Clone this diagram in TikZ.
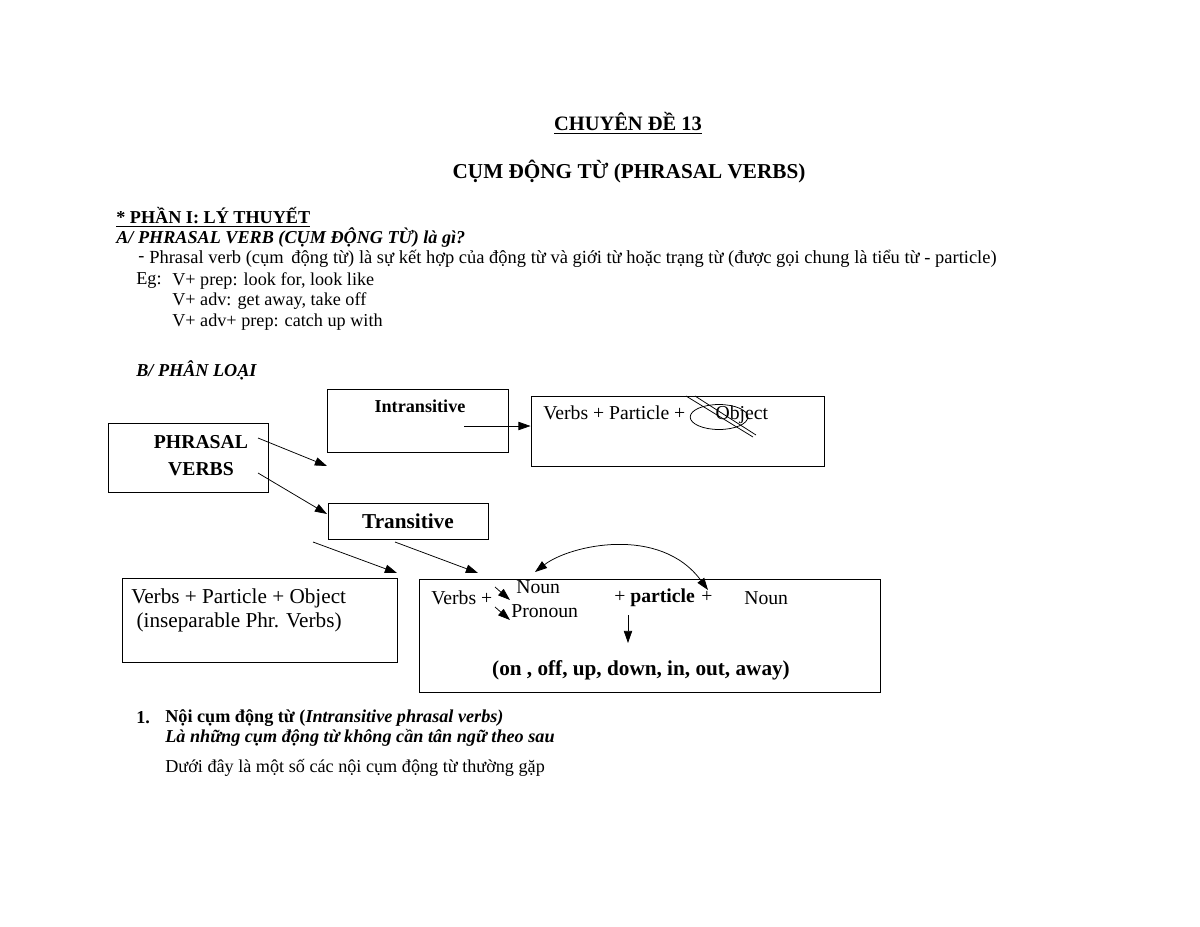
\documentclass[tikz,border=0pt]{standalone}
\usepackage{fontspec}
\setmainfont{Liberation Serif}
\usetikzlibrary{arrows.meta,shapes.geometric,calc}
\tikzstyle{box}=[draw, shape=rectangle, line width=0.6pt, inner sep=0pt]
\tikzstyle{txt}=[anchor=west, inner sep=0pt, font=\fontsize{12}{14}\selectfont]
\tikzstyle{arr}=[line width=0.5pt, -{Triangle[length=8pt,width=5.5pt]}]

\begin{document}
\begin{tikzpicture}[x=0.66pt, y=-0.66pt]
\useasboundingbox (0,0) rectangle (1200,927);
% heading and theory
\node[txt, anchor=center, font=\fontsize{13.5}{15}\selectfont\bfseries] at (628,123) (Head1) {\underline{CHUYÊN ĐỀ 13}};
\node[txt, anchor=center, font=\fontsize{14}{16}\selectfont\bfseries] at (629,172) (Head2) {CỤM ĐỘNG TỪ (PHRASAL VERBS)};
\node[txt, font=\fontsize{12}{14}\selectfont\bfseries] at (116,217) (Part1) {\underline{* PHẦN I: LÝ THUYẾT}};
\node[txt, font=\fontsize{12}{14}\selectfont\bfseries\itshape] at (116,238) (SecA) {A/ PHRASAL VERB (CỤM ĐỘNG TỪ) là gì?};
\node[txt] at (138,259) (Dash) {-};
\node[txt, font=\fontsize{12.2}{14}\selectfont] at (149,259) (Def) {Phrasal verb (cụm\, động từ) là sự kết hợp của động từ và giới từ hoặc trạng từ (được gọi chung là tiểu từ - particle)};
\node[txt] at (136,281) (Eg) {Eg:};
\node[txt] at (172,281) (Eg1) {V+ prep: look for, look like};
\node[txt] at (172,301) (Eg2) {V+ adv: get away, take off};
\node[txt] at (172,322) (Eg3) {V+ adv+ prep: catch up with};
\node[txt, font=\fontsize{12}{14}\selectfont\bfseries\itshape] at (136,370) (SecB) {B/ PHÂN LOẠI};
% boxes
\node[box, minimum width=105.6pt, minimum height=45.5pt] at (188,457.5) (PV) {};
\node[box, minimum width=119.5pt, minimum height=41.6pt] at (417.5,420.5) (Intr) {};
\node[box, minimum width=193.4pt, minimum height=46.2pt] at (677.5,431) (Obj) {};
\node[box, minimum width=105.6pt, minimum height=23.8pt] at (408,521) (Tr) {};
\node[box, minimum width=181.5pt, minimum height=55.4pt] at (259.5,620) (Insep) {};
\node[box, minimum width=304.3pt, minimum height=74.6pt] at (649.5,635.5) (Sep) {};
% box texts
\node[txt, anchor=center, align=center, font=\fontsize{13}{17.8}\selectfont\bfseries] at (201,455.5) (PVt) {PHRASAL\\VERBS};
\node[txt, anchor=center, font=\fontsize{12}{14}\selectfont\bfseries] at (420,406) (Intrt) {Intransitive};
\node[txt, font=\fontsize{13}{15}\selectfont] at (543,415) (Objt) {Verbs + Particle +\hspace{20pt}Object};
\node[txt, anchor=center, font=\fontsize{14}{16}\selectfont\bfseries] at (408,521) (Trt) {Transitive};
\node[txt, align=left, font=\fontsize{14}{15.8}\selectfont] at (131,610) (Insept) {Verbs + Particle + Object\\\ (inseparable Phr. Verbs)};
\node[txt, font=\fontsize{13}{15}\selectfont] at (431,598) (Vb) {Verbs +};
\node[txt, font=\fontsize{13}{15}\selectfont] at (516,587) (Nn1) {Noun};
\node[txt, font=\fontsize{13}{15}\selectfont] at (511,611) (Pn) {Pronoun};
\node[txt, font=\fontsize{13}{15}\selectfont] at (614,598) (Pt) {+ \textbf{particle}\,\,+};
\node[txt, font=\fontsize{13}{15}\selectfont] at (744,598) (Nn2) {Noun};
\node[txt, anchor=center, font=\fontsize{14}{16}\selectfont\bfseries] at (641,670) (List) {(on , off, up, down, in, out, away)};
% crossed object
\node[draw, shape=ellipse, line width=0.5pt, minimum width=38pt, minimum height=16.5pt, inner sep=0pt] at (719,417) (Ring) {};
\coordinate (X1) at (686,396);
\coordinate (X2) at (753,437);
\coordinate (X3) at (695,396);
\coordinate (X4) at (756,435);
\draw[line width=0.5pt] (X1) -- (X2);
\draw[line width=0.5pt] (X3) -- (X4);
% connectors
\coordinate (A1) at (258,438);
\coordinate (A2) at (327,466);
\coordinate (B1) at (258,473);
\coordinate (B2) at (327,514);
\coordinate (C1) at (464,426);
\coordinate (D1) at (313,542);
\coordinate (D2) at (397,573);
\coordinate (E1) at (395,542);
\coordinate (E2) at (478,573);
\coordinate (F1) at (495,587);
\coordinate (F2) at (510,600);
\coordinate (G1) at (495,607);
\coordinate (G2) at (510,620);
\coordinate (H1) at (628,615);
\coordinate (H2) at (628,643);
\coordinate (K1) at (535,572);
\coordinate (K2) at (708,590);
\draw[arr] (A1) -- (A2);
\draw[arr] (B1) -- (B2);
\draw[arr] (C1) -- (Obj.west |- C1);
\draw[arr] (D1) -- (D2);
\draw[arr] (E1) -- (E2);
\draw[arr] (F1) -- (F2);
\draw[arr] (G1) -- (G2);
\draw[arr] (H1) -- (H2);
\draw[arr, {Triangle[length=8pt,width=5.5pt]}-{Triangle[length=8pt,width=5.5pt]}] (K1) .. controls (570,545) and (660,525) .. (K2);
% intransitive section
\node[txt, font=\fontsize{12}{14}\selectfont\bfseries] at (136,718) (N1) {1.};
\node[txt, font=\fontsize{12}{14}\selectfont\bfseries] at (165,718) (N1t) {Nội cụm động từ (\textit{Intransitive phrasal verbs)}};
\node[txt, font=\fontsize{12}{14}\selectfont\bfseries\itshape] at (165,738) (N1d) {Là những cụm động từ không cần tân ngữ theo sau};
\node[txt] at (165,768) (N1e) {Dưới đây là một số các nội cụm động từ thường gặp};
\end{tikzpicture}
\end{document}
